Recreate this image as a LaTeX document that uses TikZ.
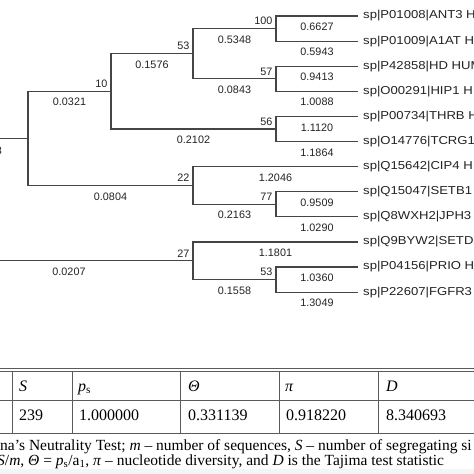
\documentclass[tikz,border=0pt]{standalone}
\usepackage{fontspec}
\setmainfont{Liberation Serif}
\newfontfamily\treefont{Liberation Sans}
\newfontfamily\leaffont[FakeStretch=1.14]{Liberation Sans}
\usepackage{tikz}
\usetikzlibrary{positioning}
\definecolor{treegray}{HTML}{454545}
\definecolor{inkgray}{HTML}{222222}
\definecolor{rulegray}{HTML}{5A5A5A}
\tikzstyle{branch}  = [draw=treegray, line width=1.2pt]
\tikzstyle{leaf}    = [anchor=west, inner xsep=5pt, inner ysep=1pt, text=inkgray,
                       font=\leaffont\fontsize{11.5}{13}\selectfont]
\tikzstyle{blen}    = [anchor=north, yshift=-3.5pt, inner sep=3pt, text=inkgray,
                       font=\treefont\fontsize{10.8}{12}\selectfont]
\tikzstyle{supp}    = [anchor=south east, inner sep=3pt, text=inkgray,
                       font=\treefont\fontsize{10.8}{12}\selectfont]
\tikzstyle{rule}    = [draw=rulegray, line width=0.8pt]
\tikzstyle{cell}    = [anchor=base west, inner sep=0pt, font=\fontsize{16}{18}\selectfont]
\tikzstyle{captext} = [anchor=base west, inner sep=0pt, font=\fontsize{15.5}{17}\selectfont]

\begin{document}
\begin{tikzpicture}[x=1pt, y=-1pt]
  \useasboundingbox (0,0) rectangle (474,474);
  \clip (0,0) rectangle (474,474);
  \fill[gray!8] (0,469) rectangle (474,474);

  % leaves
  \node[leaf] (ant3)  at (358,16)    {sp|P01008|ANT3 H};
  \node[leaf] (a1at)  at (358,41.1)  {sp|P01009|A1AT H};
  \node[leaf] (hd)    at (358,66.2)  {sp|P42858|HD HUM};
  \node[leaf] (hip1)  at (358,91.3)  {sp|O00291|HIP1 H};
  \node[leaf] (thrb)  at (358,116.4) {sp|P00734|THRB H};
  \node[leaf] (tcrg1) at (358,141.5) {sp|O14776|TCRG1};
  \node[leaf] (cip4)  at (358,166.6) {sp|Q15642|CIP4 H};
  \node[leaf] (setb1) at (358,191.7) {sp|Q15047|SETB1};
  \node[leaf] (jph3)  at (358,216.8) {sp|Q8WXH2|JPH3};
  \node[leaf] (setd)  at (358,241.9) {sp|Q9BYW2|SETD2};
  \node[leaf] (prio)  at (358,267)   {sp|P04156|PRIO H};
  \node[leaf] (fgfr3) at (358,292.1) {sp|P22607|FGFR3};

  % internal nodes
  \coordinate (n100) at (276,28.55);
  \coordinate (n57)  at (276,78.75);
  \coordinate (n56)  at (276,128.95);
  \coordinate (n77)  at (276,204.25);
  \coordinate (n53b) at (276,279.55);
  \coordinate (n53)  at (193,53.65);
  \coordinate (n22)  at (193,185.4);
  \coordinate (n27)  at (193,260.7);
  \coordinate (n10)  at (111,91.3);
  \coordinate (nA)   at (28,138.35);
  \coordinate (root) at (-55,199.5);

  \draw[branch] (n100) |- (ant3)  node[blen, pos=0.75] {0.6627};
  \draw[branch] (n100) |- (a1at)  node[blen, pos=0.75] {0.5943};
  \draw[branch] (n57)  |- (hd)    node[blen, pos=0.75] {0.9413};
  \draw[branch] (n57)  |- (hip1)  node[blen, pos=0.75] {1.0088};
  \draw[branch] (n56)  |- (thrb)  node[blen, pos=0.75] {1.1120};
  \draw[branch] (n56)  |- (tcrg1) node[blen, pos=0.75] {1.1864};
  \draw[branch] (n22)  |- (cip4)  node[blen, pos=0.75] {1.2046};
  \draw[branch] (n77)  |- (setb1) node[blen, pos=0.75] {0.9509};
  \draw[branch] (n77)  |- (jph3)  node[blen, pos=0.75] {1.0290};
  \draw[branch] (n27)  |- (setd)  node[blen, pos=0.75] {1.1801};
  \draw[branch] (n53b) |- (prio)  node[blen, pos=0.75] {1.0360};
  \draw[branch] (n53b) |- (fgfr3) node[blen, pos=0.75] {1.3049};

  \draw[branch] (n53)  |- (n100) node[blen, pos=0.75] {0.5348} node[supp, pos=1] {100};
  \draw[branch] (n53)  |- (n57)  node[blen, pos=0.75] {0.0843} node[supp, pos=1] {57};
  \draw[branch] (n10)  |- (n53)  node[blen, pos=0.75] {0.1576} node[supp, pos=1] {53};
  \draw[branch] (n10)  |- (n56)  node[blen, pos=0.75] {0.2102} node[supp, pos=1] {56};
  \draw[branch] (nA)   |- (n10)  node[blen, pos=0.75] {0.0321} node[supp, pos=1] {10};
  \draw[branch] (nA)   |- (n22)  node[blen, pos=0.75] {0.0804} node[supp, pos=1] {22};
  \draw[branch] (n22)  |- (n77)  node[blen, pos=0.75] {0.2163} node[supp, pos=1] {77};
  \draw[branch] (n27)  |- (n53b) node[blen, pos=0.75] {0.1558} node[supp, pos=1] {53};
  \draw[branch] (root) |- (nA);
  \draw[branch] (root) |- (n27)  node[blen, pos=0.75] {0.0207} node[supp, pos=1] {27};
  \node[blen, anchor=north east] (rootlen) at (5,140.5) {3};

  % table
  \draw[rule] (0,368.5) -- (474,368.5);
  \draw[rule] (0,371) -- (474,371);
  \draw[rule] (0,400) -- (474,400);
  \draw[rule] (0,433) -- (474,433);
  \foreach \cx in {12,72,180,279,378}
    \draw[rule] (\cx,371) -- (\cx,433);

  \node[cell] (hS)   at (19,391)  {\textit{S}};
  \node[cell] (hps)  at (78,391)  {\textit{p}\textsubscript{s}};
  \node[cell] (hth)  at (188,391) {\textit{Θ}};
  \node[cell] (hpi)  at (285,391) {\textit{π}};
  \node[cell] (hD)   at (386,391) {\textit{D}};
  \node[cell] (vS)   at (19,420)  {239};
  \node[cell] (vps)  at (79,420)  {1.000000};
  \node[cell] (vth)  at (188,420) {0.331139};
  \node[cell] (vpi)  at (286,420) {0.918220};
  \node[cell] (vD)   at (386,420) {8.340693};

  % caption
  \node[captext] (cap1) at (0,450) {na’s Neutrality Test; \textit{m} – number of sequences, \textit{S} – number of segregating si};
  \node[captext] (cap2) at (-3,465) {\textit{S}/\textit{m}, \textit{Θ} = \textit{p}\textsubscript{s}/a\textsubscript{1}, \textit{π} – nucleotide diversity, and \textit{D} is the Tajima test statistic};
\end{tikzpicture}
\end{document}
